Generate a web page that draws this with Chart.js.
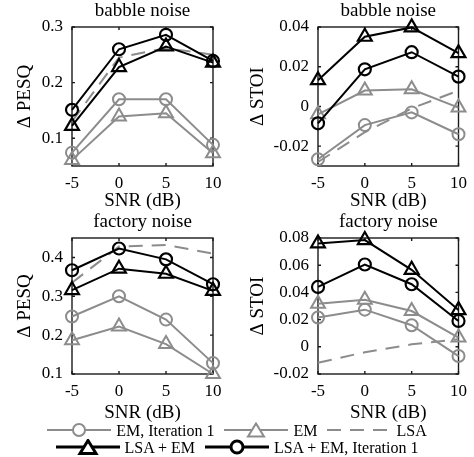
<!DOCTYPE html>
<html>
<head>
<meta charset="utf-8">
<script src="https://cdn.jsdelivr.net/npm/chart.js@4.4.1/dist/chart.umd.min.js"></script>
<style>
  html, body { margin: 0; padding: 0; background: #fff; }
  body { width: 474px; height: 457px; position: relative; overflow: hidden; font-family: "Liberation Serif", serif; }
  .panel { position: absolute; }
  #legend { position: absolute; left: 0; top: 422px; width: 474px; font-size: 16px; color: #000; }
  .row { display: flex; justify-content: center; align-items: center; height: 17px; }
  .item { display: flex; align-items: center; margin: 0 5px; white-space: nowrap; }
  .item svg { margin-right: 5px; }
</style>
</head>
<body>
<div class="panel" style="left:0;top:0;width:237px;height:215px"><canvas id="c1"></canvas></div>
<div class="panel" style="left:237px;top:0;width:237px;height:215px"><canvas id="c2"></canvas></div>
<div class="panel" style="left:0;top:211px;width:237px;height:216px"><canvas id="c3"></canvas></div>
<div class="panel" style="left:237px;top:211px;width:237px;height:216px"><canvas id="c4"></canvas></div>
<div id="legend"></div>

<script>
// SNR values on the x axis
const snr = [-5, 0, 5, 10];
const snrTicks = [-5, 0, 5, 10];

// babble noise, delta PESQ
const babblePesqEmIt1 = [0.074, 0.170, 0.170, 0.088];
const babblePesqEm = [0.061, 0.139, 0.145, 0.073];
const babblePesqLsa = [0.130, 0.245, 0.262, 0.250];
const babblePesqLsaEm = [0.122, 0.228, 0.265, 0.236];
const babblePesqLsaEmIt1 = [0.151, 0.260, 0.286, 0.239];
const babblePesqTicks = [0.1, 0.2, 0.3];

// babble noise, delta STOI
const babbleStoiEmIt1 = [-0.0266, -0.0094, -0.0030, -0.0140];
const babbleStoiEm = [-0.0040, 0.0080, 0.0086, -0.0006];
const babbleStoiLsa = [-0.0280, -0.0130, -0.0010, 0.0080];
const babbleStoiLsaEm = [0.0132, 0.0351, 0.0398, 0.0268];
const babbleStoiLsaEmIt1 = [-0.0085, 0.0187, 0.0273, 0.0150];
const babbleStoiTicks = [-0.02, 0, 0.02, 0.04];

// factory noise, delta PESQ
const factoryPesqEmIt1 = [0.248, 0.300, 0.240, 0.128];
const factoryPesqEm = [0.187, 0.222, 0.177, 0.100];
const factoryPesqLsa = [0.335, 0.428, 0.432, 0.410];
const factoryPesqLsaEm = [0.316, 0.371, 0.358, 0.314];
const factoryPesqLsaEmIt1 = [0.367, 0.423, 0.395, 0.331];
const factoryPesqTicks = [0.1, 0.2, 0.3, 0.4];

// factory noise, delta STOI
const factoryStoiEmIt1 = [0.0215, 0.0273, 0.0159, -0.0068];
const factoryStoiEm = [0.0317, 0.0346, 0.0263, 0.0068];
const factoryStoiLsa = [-0.0117, -0.0040, 0.0018, 0.0055];
const factoryStoiLsaEm = [0.0760, 0.0785, 0.0566, 0.0270];
const factoryStoiLsaEmIt1 = [0.0440, 0.0605, 0.0460, 0.0190];
const factoryStoiTicks = [-0.02, 0, 0.02, 0.04, 0.06, 0.08];

const GRAY = '#8c8c8c';
const FONT = '"Liberation Serif", serif';

// line styles, in legend order
const styles = [
  { label: 'EM, Iteration 1', color: GRAY, marker: 'circle', dash: [], order: 2 },
  { label: 'EM', color: GRAY, marker: 'triangle', dash: [], order: 2 },
  { label: 'LSA', color: GRAY, marker: false, dash: [14, 9], order: 1 },
  { label: 'LSA + EM', color: '#000', marker: 'triangle', dash: [], order: 0 },
  { label: 'LSA + EM, Iteration 1', color: '#000', marker: 'circle', dash: [], order: 0 },
];

// box + inward ticks like matlab axes
const boxPlugin = {
  id: 'matlabBox',
  beforeDatasetsDraw(chart) {
    const { ctx, chartArea: a, scales: { x, y } } = chart;
    ctx.save();
    ctx.strokeStyle = '#1a1a1a';
    ctx.lineWidth = 1.4;
    ctx.strokeRect(a.left, a.top, a.right - a.left, a.bottom - a.top);
    ctx.beginPath();
    x.ticks.forEach(t => {
      const px = x.getPixelForValue(t.value);
      ctx.moveTo(px, a.bottom); ctx.lineTo(px, a.bottom - 3);
      ctx.moveTo(px, a.top); ctx.lineTo(px, a.top + 3);
    });
    y.ticks.forEach(t => {
      const py = y.getPixelForValue(t.value);
      ctx.moveTo(a.left, py); ctx.lineTo(a.left + 3, py);
      ctx.moveTo(a.right, py); ctx.lineTo(a.right - 3, py);
    });
    ctx.stroke();
    ctx.restore();
  }
};

// build one panel
function makePanel(id, title, yTitle, yMin, yMax, yTicks, series, geo) {
  const datasets = series.map((vals, i) => {
    const s = styles[i];
    return {
      label: s.label,
      data: snr.map((x, k) => ({ x: x, y: vals[k] })),
      borderColor: s.color,
      borderWidth: 2,
      borderDash: s.dash,
      pointStyle: s.marker || 'circle',
      pointRadius: s.marker === 'triangle' ? 8 : (s.marker ? 6 : 0),
      pointBorderWidth: s.color === '#000' ? 2.2 : 2,
      pointBorderColor: s.color,
      pointBackgroundColor: 'rgba(0,0,0,0)',
      tension: 0,
      clip: false,
      order: s.order,
    };
  });

  return new Chart(document.getElementById(id), {
    type: 'line',
    data: { datasets: datasets },
    plugins: [boxPlugin],
    options: {
      responsive: true,
      maintainAspectRatio: false,
      animation: false,
      layout: { padding: { left: 0, right: geo.padRight, top: 0, bottom: 0 } },
      plugins: {
        legend: { display: false },
        tooltip: { enabled: false },
        title: {
          display: true,
          fullSize: false,
          text: title,
          color: '#000',
          font: { family: FONT, size: 19, weight: 'normal' },
          padding: { top: 0, bottom: 4.2 },
        },
      },
      scales: {
        x: {
          type: 'linear',
          min: -5,
          max: 10,
          afterBuildTicks: sc => { sc.ticks = snrTicks.map(v => ({ value: v })); },
          afterFit: sc => { sc.height = geo.xHeight; },
          grid: { display: false, drawTicks: false },
          border: { display: false },
          ticks: { color: '#000', padding: 7, font: { family: FONT, size: 17 }, maxRotation: 0 },
          title: {
            display: true,
            text: 'SNR (dB)',
            color: '#000',
            font: { family: FONT, size: 19 },
            padding: { top: 0, bottom: 2.6 },
          },
        },
        y: {
          type: 'linear',
          min: yMin,
          max: yMax,
          afterBuildTicks: sc => { sc.ticks = yTicks.map(v => ({ value: v })); },
          afterFit: sc => { sc.width = geo.yWidth; },
          grid: { display: false, drawTicks: false },
          border: { display: false },
          ticks: { color: '#000', padding: 9, font: { family: FONT, size: 17 }, callback: v => String(v) },
          title: {
            display: true,
            text: yTitle,
            color: '#000',
            font: { family: FONT, size: 19 },
            padding: { top: geo.yTitlePad, bottom: 0 },
          },
        },
      },
    },
  });
}

makePanel('c1', 'babble noise', '\u0394 PESQ', 0.05, 0.3, babblePesqTicks,
  [babblePesqEmIt1, babblePesqEm, babblePesqLsa, babblePesqLsaEm, babblePesqLsaEmIt1],
  { padRight: 24, xHeight: 49, yWidth: 72, yTitlePad: 13.6 });

makePanel('c2', 'babble noise', '\u0394 STOI', -0.03, 0.04, babbleStoiTicks,
  [babbleStoiEmIt1, babbleStoiEm, babbleStoiLsa, babbleStoiLsaEm, babbleStoiLsaEmIt1],
  { padRight: 14, xHeight: 49, yWidth: 81, yTitlePad: 9.6 });

makePanel('c3', 'factory noise', '\u0394 PESQ', 0.1, 0.45, factoryPesqTicks,
  [factoryPesqEmIt1, factoryPesqEm, factoryPesqLsa, factoryPesqLsaEm, factoryPesqLsaEmIt1],
  { padRight: 24, xHeight: 53, yWidth: 72, yTitlePad: 13.6 });

makePanel('c4', 'factory noise', '\u0394 STOI', -0.02, 0.08, factoryStoiTicks,
  [factoryStoiEmIt1, factoryStoiEm, factoryStoiLsa, factoryStoiLsaEm, factoryStoiLsaEmIt1],
  { padRight: 14, xHeight: 53, yWidth: 81, yTitlePad: 9.6 });

// small svg sample of a line style for the legend
function legendIcon(s, bold) {
  const sw = bold ? 3 : 2;
  let marker = '';
  if (s.marker === 'circle') {
    marker = `<circle cx="32" cy="8" r="6" fill="#fff" stroke="${s.color}" stroke-width="${sw}"/>`;
  } else if (s.marker === 'triangle') {
    marker = `<polygon points="32,1.5 24,14.5 40,14.5" fill="#fff" stroke="${s.color}" stroke-width="${sw}"/>`;
  }
  const dash = s.dash.length ? `stroke-dasharray="${s.dash.join(' ')}"` : '';
  return `<svg width="64" height="17"><line x1="0" y1="8" x2="64" y2="8" stroke="${s.color}" stroke-width="${sw}" ${dash}/>${marker}</svg>`;
}

// legend: two rows, first three gray, then the two black ones
const legendRows = [[0, 1, 2], [3, 4]];
const legend = document.getElementById('legend');
legendRows.forEach(row => {
  const div = document.createElement('div');
  div.className = 'row';
  row.forEach(i => {
    const s = styles[i];
    const item = document.createElement('div');
    item.className = 'item';
    item.innerHTML = legendIcon(s, s.color === '#000') + `<span>${s.label}</span>`;
    div.appendChild(item);
  });
  legend.appendChild(div);
});
</script>
</body>
</html>
